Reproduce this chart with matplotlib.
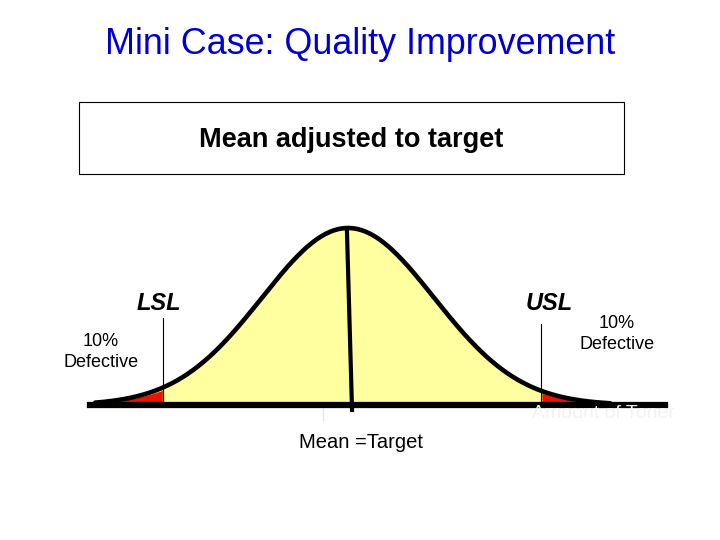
import numpy as np
import matplotlib
matplotlib.use("Agg")
import matplotlib.pyplot as plt
from matplotlib.patches import Rectangle

plt.rcParams['font.family'] = ['Liberation Sans', 'DejaVu Sans']

# process: amount of toner, in units of sigma, mean set to target
mean = 0.0
sigma = 1.0
lsl = -2.15
usl = 2.24
curve_range = (-2.94, 3.05)
axis_range = (-3.0, 3.69)

title = "Mini Case: Quality Improvement"
box_text = "Mean adjusted to target"
tail_label = "10%\nDefective"
mean_label = "Mean =Target"
axis_label = "Amount of Toner"

W, H = 720, 540
fig = plt.figure(figsize=(W / 100, H / 100), dpi=100)
ax = fig.add_axes([0, 0, 1, 1])
ax.set_xlim(-348 / 86, 372 / 86)
ax.set_ylim(-135 / 177, 405 / 177)
ax.axis('off')


def px(x, y):
    return x / W, 1 - y / H


x = np.linspace(curve_range[0], curve_range[1], 400)
y = np.exp(-0.5 * ((x - mean) / sigma) ** 2)

ax.fill_between(x, 0, y, color='#ffffa0', lw=0, zorder=1)
left = x <= lsl
right = x >= usl
ax.fill_between(x[left], 0, y[left] * 0.85, color='#ee1100', lw=0, zorder=2)
ax.fill_between(x[right], 0, y[right] * 0.85, color='#ee1100', lw=0, zorder=2)
ax.plot(x, y, color='black', lw=3.3, solid_capstyle='round', zorder=4)

# axis label sitting behind the baseline (barely visible)
fig.text(*px(603, 413), axis_label, color='#f3f3f3', fontsize=14,
         ha='center', va='center', zorder=0)
ax.plot([-0.29, -0.29], [0, -0.085], color='#e6e6e6', lw=1, zorder=0)

ax.plot(axis_range, [0, 0], color='black', lw=4.5, zorder=5)

# mean line (slightly tilted as in the sketch)
ax.plot([mean - 0.012, mean + 0.047], [0.977, -0.028], color='black', lw=3,
        zorder=6)

# spec limits
ax.plot([lsl, lsl], [0, 0.49], color='black', lw=0.8, zorder=3)
ax.plot([usl, usl], [0, 0.46], color='black', lw=0.8, zorder=3)

fig.text(*px(360, 44), title, color='#0000cc', fontsize=25.8,
         ha='center', va='center')
fig.patches.append(Rectangle(px(79, 174), 545 / W, 72 / H, fill=False,
                             ec='black', lw=0.8, transform=fig.transFigure))
fig.text(*px(351, 140), box_text, fontsize=19.5, fontweight='bold',
         ha='center', va='center')

fig.text(*px(159, 303), "LSL", fontsize=17, fontweight='bold',
         fontstyle='italic', ha='center', va='center')
fig.text(*px(549, 303), "USL", fontsize=17, fontweight='bold',
         fontstyle='italic', ha='center', va='center')

fig.text(*px(101, 352), tail_label, fontsize=13, ha='center', va='center',
         linespacing=1.25)
fig.text(*px(617, 334), tail_label, fontsize=13, ha='center', va='center',
         linespacing=1.25)

fig.text(*px(361, 443), mean_label, fontsize=14.5, ha='center', va='center')

fig.savefig('out.png', dpi=100)
